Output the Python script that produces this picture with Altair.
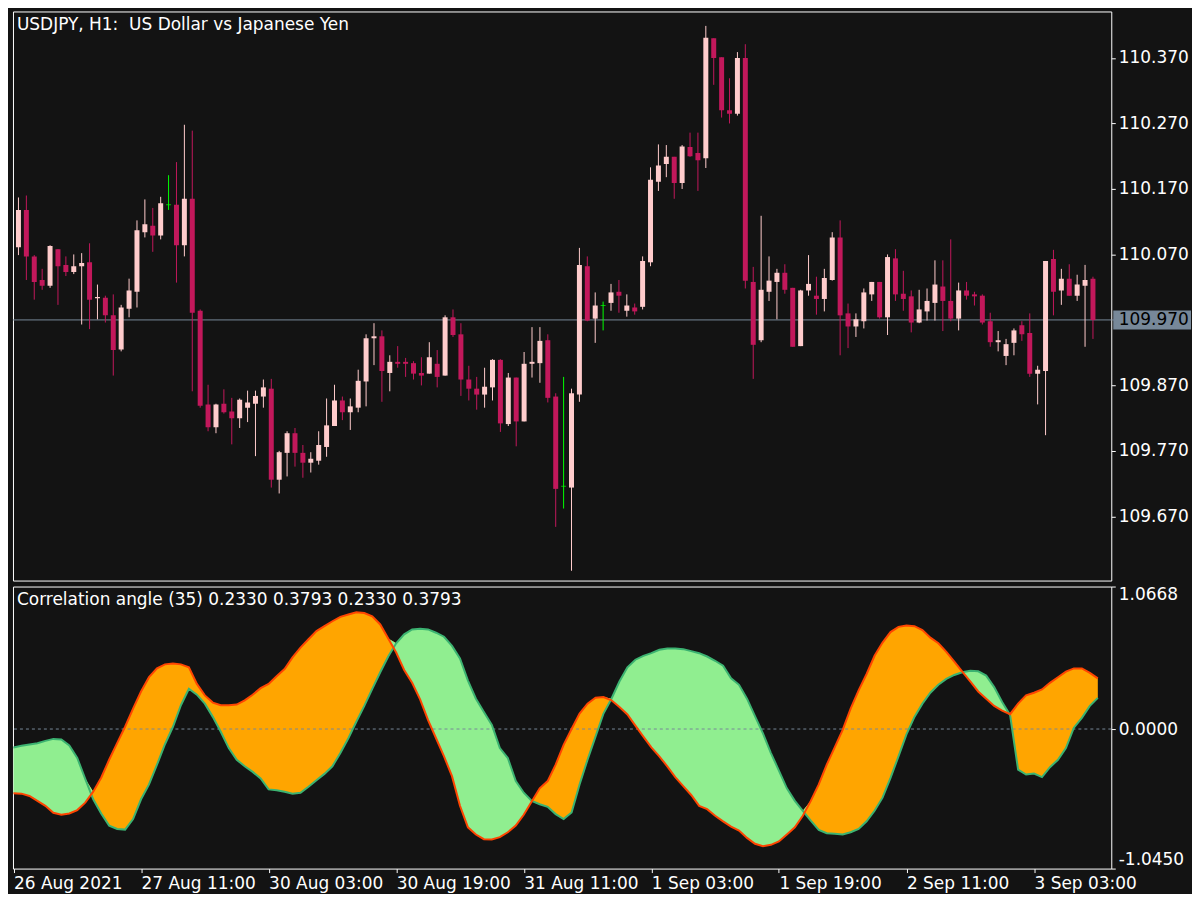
import altair as alt
import numpy as np
import pandas as pd

symbol_title = "USDJPY, H1:\u00a0 US Dollar vs Japanese Yen"
ind_name = "Correlation angle"
ind_period = 35

opens = [110.081, 110.138, 110.067, 110.031, 110.022, 110.078, 110.054, 110.043, 110.052, 110.058,
         110.003, 110.004, 109.977, 109.925, 109.987, 110.013, 110.104, 110.114, 110.099, 110.146,
         110.146, 110.084, 110.155, 109.984, 109.841, 109.806, 109.842, 109.830, 109.820, 109.836,
         109.842, 109.853, 109.865, 109.726, 109.767, 109.797, 109.767, 109.752, 109.755, 109.776,
         109.808, 109.847, 109.829, 109.836, 109.876, 109.942, 109.945, 109.889, 109.906, 109.906,
         109.904, 109.889, 109.888, 109.903, 109.885, 109.974, 109.948, 109.879, 109.865, 109.856,
         109.867, 109.909, 109.811, 109.882, 109.815, 109.903, 109.904, 109.939, 109.853, 109.716,
         109.714, 109.856, 110.052, 109.972, 109.992, 109.996, 110.013, 109.984, 109.989, 109.990,
         110.058, 110.181, 110.208, 110.219, 110.179, 110.234, 110.225, 110.217, 110.400, 110.371,
         110.290, 110.285, 110.370, 110.028, 109.939, 110.013, 110.028, 110.042, 110.019, 109.930,
         110.015, 110.007, 110.002, 110.031, 110.096, 109.980, 109.960, 109.968, 110.009, 110.028,
         109.974, 110.064, 110.010, 110.006, 109.966, 109.983, 109.996, 110.021, 109.999, 109.972,
         110.015, 110.009, 110.007, 109.968, 109.936, 109.915, 109.935, 109.962, 109.950, 109.888,
         109.892, 110.063, 110.015, 110.033, 110.007, 110.022, 110.033]
highs = [110.157, 110.160, 110.069, 110.048, 110.084, 110.078, 110.067, 110.070, 110.072, 110.087,
         110.024, 110.007, 110.009, 109.993, 110.033, 110.122, 110.154, 110.141, 110.158, 110.191,
         110.211, 110.268, 110.259, 109.986, 109.871, 109.842, 109.864, 109.851, 109.850, 109.862,
         109.862, 109.879, 109.880, 109.770, 109.800, 109.805, 109.779, 109.768, 109.800, 109.850,
         109.871, 109.853, 109.850, 109.894, 109.948, 109.965, 109.954, 109.916, 109.930, 109.912,
         109.907, 109.913, 109.936, 109.924, 109.977, 109.986, 109.965, 109.900, 109.883, 109.897,
         109.910, 109.910, 109.889, 109.882, 109.921, 109.959, 109.959, 109.948, 109.858, 109.883,
         109.865, 110.080, 110.067, 110.012, 109.998, 110.025, 110.031, 110.009, 109.995, 110.067,
         110.203, 110.238, 110.237, 110.219, 110.237, 110.256, 110.256, 110.419, 110.400, 110.371,
         110.339, 110.379, 110.391, 110.051, 110.129, 110.067, 110.048, 110.055, 110.019, 110.016,
         110.069, 110.036, 110.048, 110.104, 110.122, 109.995, 109.980, 110.018, 110.028, 110.028,
         110.070, 110.078, 110.045, 110.015, 110.016, 110.018, 110.061, 110.061, 110.093, 110.027,
         110.028, 110.013, 110.009, 109.981, 109.953, 109.941, 109.957, 109.968, 109.980, 109.900,
         110.060, 110.077, 110.048, 110.055, 110.039, 110.054, 110.036]
lows = [110.069, 110.031, 110.001, 110.016, 110.019, 109.993, 110.037, 110.040, 109.963, 109.956,
        109.971, 109.966, 109.885, 109.922, 109.974, 109.989, 110.096, 110.074, 110.093, 110.138,
        110.027, 110.067, 109.861, 109.836, 109.800, 109.797, 109.827, 109.780, 109.805, 109.814,
        109.762, 109.836, 109.714, 109.705, 109.731, 109.746, 109.729, 109.737, 109.749, 109.761,
        109.808, 109.817, 109.802, 109.829, 109.838, 109.901, 109.845, 109.861, 109.897, 109.883,
        109.879, 109.870, 109.888, 109.867, 109.885, 109.944, 109.854, 109.847, 109.833, 109.836,
        109.847, 109.799, 109.808, 109.777, 109.815, 109.882, 109.874, 109.844, 109.654, 109.682,
        109.587, 109.845, 109.968, 109.935, 109.954, 109.984, 109.981, 109.975, 109.978, 109.986,
        110.052, 110.167, 110.188, 110.155, 110.170, 110.219, 110.167, 110.202, 110.329, 110.279,
        110.270, 110.282, 110.018, 109.880, 109.936, 109.999, 109.971, 110.010, 109.929, 109.930,
        110.007, 109.978, 109.983, 110.030, 109.916, 109.927, 109.944, 109.957, 109.999, 109.972,
        109.947, 109.999, 109.984, 109.951, 109.965, 109.969, 109.969, 109.953, 109.968, 109.954,
        110.001, 109.992, 109.963, 109.929, 109.922, 109.901, 109.916, 109.938, 109.883, 109.841,
        109.794, 109.977, 109.993, 110.007, 109.999, 109.929, 109.941]
closes = [110.138, 110.067, 110.028, 110.022, 110.083, 110.052, 110.043, 110.052, 110.057, 110.001,
          110.005, 109.977, 109.924, 109.989, 110.015, 110.107, 110.116, 110.099, 110.148, 110.146,
          110.084, 110.155, 109.981, 109.839, 109.806, 109.841, 109.829, 109.820, 109.848, 109.844,
          109.854, 109.867, 109.726, 109.768, 109.797, 109.767, 109.752, 109.758, 109.779, 109.809,
          109.847, 109.829, 109.838, 109.877, 109.942, 109.945, 109.892, 109.906, 109.903, 109.903,
          109.888, 109.885, 109.913, 109.883, 109.974, 109.947, 109.879, 109.865, 109.856, 109.868,
          109.909, 109.812, 109.882, 109.815, 109.903, 109.906, 109.938, 109.851, 109.712, 109.716,
          109.858, 110.054, 109.969, 109.992, 109.992, 110.012, 110.007, 109.992, 109.983, 110.060,
          110.184, 110.206, 110.219, 110.179, 110.235, 110.220, 110.214, 110.401, 110.370, 110.290,
          110.285, 110.370, 110.030, 109.932, 110.016, 110.030, 110.042, 110.016, 109.929, 110.015,
          110.025, 110.002, 110.034, 110.096, 109.977, 109.960, 109.971, 110.012, 110.028, 109.974,
          110.066, 110.009, 110.002, 109.966, 109.986, 109.999, 110.024, 109.999, 109.972, 110.015,
          110.007, 110.006, 109.966, 109.936, 109.939, 109.933, 109.954, 109.948, 109.888, 109.894,
          110.060, 110.013, 110.033, 110.007, 110.024, 110.031, 109.970]

# indicator buffers: first (green line) and second (orange-red line)
corr_a = [-0.138, -0.126, -0.116, -0.106, -0.089, -0.074, -0.079, -0.123, -0.217, -0.373,
          -0.526, -0.632, -0.723, -0.748, -0.753, -0.674, -0.526, -0.415, -0.267, -0.114,
          0.017, 0.178, 0.301, 0.257, 0.190, 0.091, -0.020, -0.143, -0.230, -0.279,
          -0.321, -0.370, -0.452, -0.459, -0.469, -0.484, -0.477, -0.432, -0.383, -0.336,
          -0.279, -0.180, -0.069, 0.054, 0.173, 0.301, 0.425, 0.543, 0.642, 0.709,
          0.746, 0.751, 0.746, 0.721, 0.691, 0.622, 0.528, 0.363, 0.227, 0.128,
          0.030, -0.143, -0.217, -0.390, -0.477, -0.538, -0.563, -0.583, -0.637, -0.674,
          -0.625, -0.415, -0.230, -0.057, 0.116, 0.227, 0.356, 0.462, 0.519, 0.548,
          0.568, 0.593, 0.602, 0.602, 0.598, 0.583, 0.568, 0.543, 0.511, 0.474,
          0.380, 0.331, 0.227, 0.096, -0.032, -0.180, -0.311, -0.444, -0.538, -0.612,
          -0.686, -0.756, -0.780, -0.785, -0.790, -0.773, -0.748, -0.691, -0.612, -0.514,
          -0.365, -0.205, -0.040, 0.091, 0.190, 0.272, 0.331, 0.375, 0.405, 0.425,
          0.437, 0.432, 0.400, 0.314, 0.202, 0.104, -0.304, -0.341, -0.333, -0.360,
          -0.286, -0.230, -0.143, 0.010, 0.084, 0.173, 0.2330]
corr_b = [-0.481, -0.484, -0.501, -0.538, -0.575, -0.627, -0.642, -0.632, -0.607, -0.551,
          -0.469, -0.365, -0.230, -0.106, 0.017, 0.153, 0.281, 0.388, 0.454, 0.484,
          0.491, 0.484, 0.462, 0.338, 0.252, 0.198, 0.178, 0.178, 0.183, 0.215,
          0.257, 0.306, 0.338, 0.395, 0.449, 0.536, 0.610, 0.672, 0.733, 0.770,
          0.807, 0.840, 0.857, 0.874, 0.869, 0.844, 0.783, 0.677, 0.573, 0.442,
          0.346, 0.222, 0.067, -0.069, -0.205, -0.353, -0.575, -0.736, -0.790, -0.825,
          -0.827, -0.810, -0.773, -0.723, -0.642, -0.543, -0.444, -0.390, -0.267, -0.119,
          0.000, 0.116, 0.190, 0.235, 0.240, 0.215, 0.165, 0.109, 0.025, -0.057,
          -0.138, -0.205, -0.279, -0.360, -0.427, -0.494, -0.575, -0.600, -0.649, -0.691,
          -0.731, -0.760, -0.815, -0.859, -0.877, -0.867, -0.842, -0.790, -0.736, -0.649,
          -0.538, -0.415, -0.267, -0.138, -0.007, 0.153, 0.289, 0.412, 0.548, 0.647,
          0.726, 0.765, 0.775, 0.770, 0.741, 0.684, 0.642, 0.578, 0.504, 0.430,
          0.356, 0.281, 0.227, 0.173, 0.138, 0.111, 0.190, 0.252, 0.272, 0.296,
          0.346, 0.388, 0.430, 0.454, 0.454, 0.420, 0.3793]

time_tick_idx = [0, 16, 32, 48, 64, 80, 96, 112, 128]
time_tick_text = ["26 Aug 2021", "27 Aug 11:00", "30 Aug 03:00", "30 Aug 19:00", "31 Aug 11:00",
                  "1 Sep 03:00", "1 Sep 19:00", "2 Sep 11:00", "3 Sep 03:00"]
price_ticks = [109.670, 109.770, 109.870, 109.970, 110.070, 110.170, 110.270, 110.370]
price_domain = [109.572, 110.441]
last_price = 109.970
ind_ticks = [-1.0450, 0.0, 1.0668]
ind_tick_text = ["-1.0450", "0.0000", "1.0668"]

# ---------------- styling ----------------
FONT = "DejaVu Sans"
FS = 17
BG = "#131313"
BULL = "#FFCCCC"
BEAR = "#C2185B"
DOJI = "#00FF00"
SLATE = "#778899"
ORANGE = "#FFA500"
LGREEN = "#90EE90"
LINE_A = "#3CB371"
LINE_B = "#FF4500"
W = 1102
H1 = 571
H2 = 283

n = len(opens)
idx = list(range(n))
df = pd.DataFrame({"i": idx, "o": opens, "h": highs, "l": lows, "c": closes})
df["dir"] = np.where(df.c > df.o, "up", np.where(df.c < df.o, "down", "flat"))
ind = pd.DataFrame({"i": idx, "a": corr_a, "b": corr_b})
one = pd.DataFrame({"k": [0]})

xscale = alt.Scale(domain=[-0.0625, n + 0.6875], nice=False, zero=False)

cond_main = "abs(datum.value - %r) < 0.0005" % last_price
yaxis_main = alt.Axis(
    orient="right", values=price_ticks, format=".3f", title=None, grid=False, domain=False,
    ticks=True, tickSize=4,
    tickColor={"condition": {"test": cond_main, "value": SLATE}, "value": "#ffffff"},
    labelColor={"condition": {"test": cond_main, "value": "#000000"}, "value": "#ffffff"},
    labelPadding=3, labelFont=FONT, labelFontSize=FS, labelAlign="left",
    labelFlush=False, labelOverlap=False, zindex=1,
)
yscale_main = alt.Scale(domain=price_domain, nice=False, zero=False)

color = alt.Color("dir:N", scale=alt.Scale(domain=["up", "down", "flat"], range=[BULL, BEAR, DOJI]),
                  legend=None)
X_main = alt.X("i:Q", scale=xscale, axis=None)

wicks = alt.Chart(df).mark_rule(strokeWidth=1, clip=True).encode(
    x=X_main, y=alt.Y("l:Q", scale=yscale_main, axis=yaxis_main), y2="h:Q", color=color)
bodies = alt.Chart(df).transform_filter("datum.dir != 'flat'").mark_bar(size=5, clip=True).encode(
    x=X_main, y=alt.Y("o:Q", scale=yscale_main, axis=yaxis_main), y2="c:Q", color=color)
flats = alt.Chart(df).transform_filter("datum.dir == 'flat'").mark_tick(
    orient="horizontal", size=5, thickness=1, clip=True).encode(
    x=X_main, y=alt.Y("o:Q", scale=yscale_main, axis=yaxis_main), color=color)
price_line = alt.Chart(one).mark_rule(color=SLATE, strokeWidth=1).encode(
    y=alt.YDatum(last_price, type="quantitative", scale=yscale_main, axis=yaxis_main))
price_box = alt.Chart(one).mark_rect(color=SLATE).encode(
    x=alt.value(W + 2), x2=alt.value(W + 80),
    y=alt.YDatum(last_price + 0.0145, type="quantitative", scale=yscale_main, axis=yaxis_main),
    y2=alt.Y2Datum(last_price - 0.0145))
title_text = alt.Chart(one).mark_text(
    align="left", baseline="middle", color="#ffffff", font=FONT, fontSize=FS, text=symbol_title
).encode(x=alt.value(4), y=alt.value(14))

main = alt.layer(price_line, wicks, bodies, flats, price_box, title_text).properties(width=W, height=H1)

# ---------------- indicator window ----------------
ind_label = "%s (%d) %.4f %.4f %.4f %.4f" % (ind_name, ind_period, corr_a[-1], corr_b[-1], corr_a[-1], corr_b[-1])
ind_expr = "[%s][indexof([%s], datum.value)]" % (
    ", ".join("'%s'" % t for t in ind_tick_text), ", ".join(repr(v) for v in ind_ticks))
yaxis_ind = alt.Axis(
    orient="right", values=ind_ticks, labelExpr=ind_expr, title=None, grid=False, domain=False,
    ticks=True, tickSize=4, tickColor="#ffffff", labelColor="#ffffff", labelPadding=3,
    labelFont=FONT, labelFontSize=FS, labelAlign="left", labelFlush=True, labelOverlap=False, zindex=1,
)
yscale_ind = alt.Scale(domain=[ind_ticks[0], ind_ticks[-1]], nice=False, zero=False)
time_expr = "[%s][indexof([%s], datum.value)]" % (
    ", ".join("'%s'" % t for t in time_tick_text), ", ".join(str(v) for v in time_tick_idx))
xaxis_ind = alt.Axis(
    orient="bottom", values=time_tick_idx, labelExpr=time_expr, title=None, grid=False, domain=False,
    ticks=True, tickSize=4, tickColor="#ffffff", labelColor="#ffffff", labelPadding=3,
    labelFont=FONT, labelFontSize=FS, labelAlign="left", labelFlush=False, labelOverlap=False, zindex=1,
)
X_ind = alt.X("i:Q", scale=xscale, axis=xaxis_ind)
ibase = alt.Chart(ind).transform_calculate(hi="max(datum.a, datum.b)")

fill_b = ibase.mark_area(color=ORANGE, opacity=1).encode(
    x=X_ind, y=alt.Y("a:Q", scale=yscale_ind, axis=yaxis_ind), y2="hi:Q")
fill_a = ibase.mark_area(color=LGREEN, opacity=1).encode(
    x=X_ind, y=alt.Y("b:Q", scale=yscale_ind, axis=yaxis_ind), y2="hi:Q")
zero_line = alt.Chart(one).mark_rule(color=SLATE, strokeWidth=1, strokeDash=[3, 3]).encode(
    y=alt.YDatum(0, type="quantitative", scale=yscale_ind, axis=yaxis_ind))
line_a = alt.Chart(ind).mark_line(color=LINE_A, strokeWidth=2).encode(
    x=X_ind, y=alt.Y("a:Q", scale=yscale_ind, axis=yaxis_ind))
line_b = alt.Chart(ind).mark_line(color=LINE_B, strokeWidth=2).encode(
    x=X_ind, y=alt.Y("b:Q", scale=yscale_ind, axis=yaxis_ind))
ind_text = alt.Chart(one).mark_text(
    align="left", baseline="middle", color="#ffffff", font=FONT, fontSize=FS, text=ind_label
).encode(x=alt.value(4), y=alt.value(14))

lower = alt.layer(fill_b, fill_a, zero_line, line_a, line_b, ind_text).properties(width=W, height=H2)

chart = alt.vconcat(main, lower, spacing=3).properties(
    background=BG,
    padding={"left": 1, "top": 1, "right": 0, "bottom": 0},
).configure_view(stroke="#ffffff", strokeWidth=1, fill=BG)

chart.save("out.html", embed_options={"renderer": "svg", "actions": False})
